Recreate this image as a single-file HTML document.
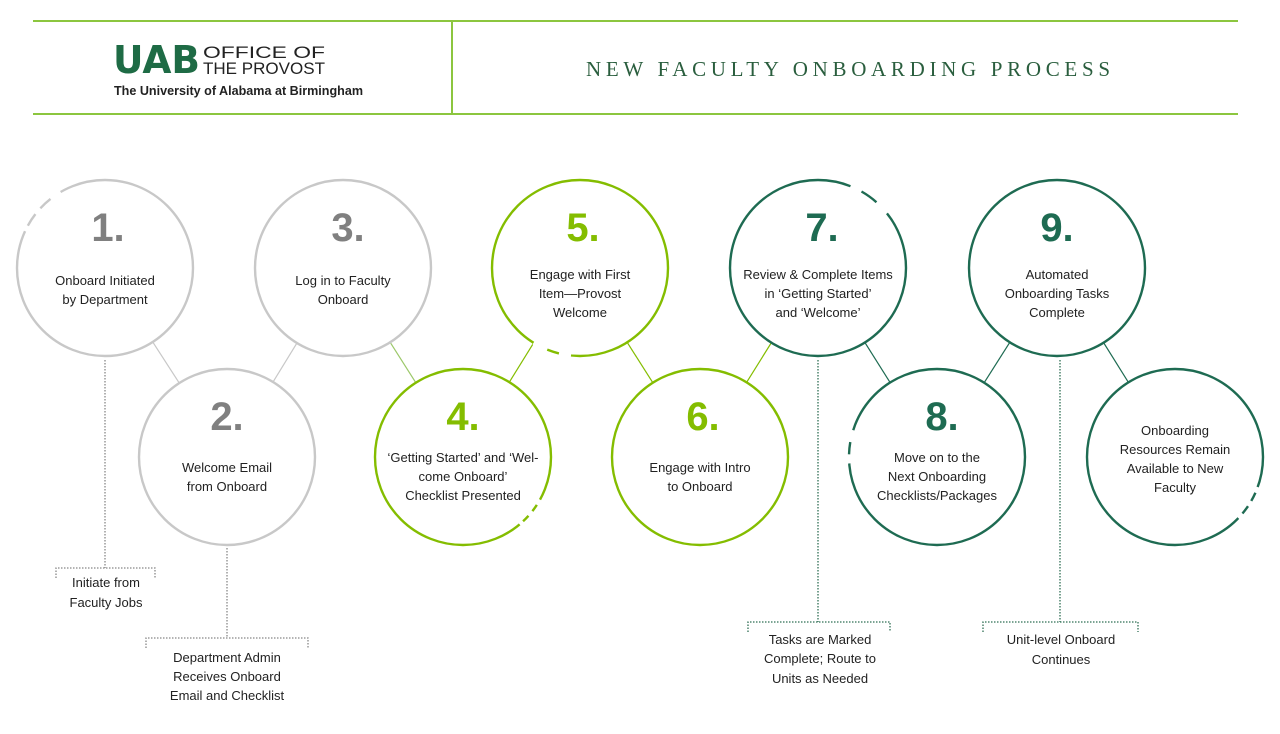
<!DOCTYPE html>
<html><head><meta charset="utf-8"><style>
html,body{margin:0;padding:0;background:#fff;}
svg{display:block;}
text{font-family:"Liberation Sans",sans-serif;}
</style></head><body>
<svg width="1280" height="734" viewBox="0 0 1280 734" xmlns="http://www.w3.org/2000/svg">
<line x1="33" y1="21" x2="1238" y2="21" stroke="#8cc63f" stroke-width="2"/>
<line x1="33" y1="114" x2="1238" y2="114" stroke="#8cc63f" stroke-width="2"/>
<line x1="452" y1="21" x2="452" y2="114" stroke="#8cc63f" stroke-width="2"/>
<text x="113" y="73" font-size="38" font-weight="bold" fill="#1e6b45" textLength="87" lengthAdjust="spacingAndGlyphs" style="font-family:'DejaVu Sans',sans-serif">UAB</text>
<text x="203" y="58" font-size="17" fill="#222" textLength="122" lengthAdjust="spacingAndGlyphs">OFFICE OF</text>
<text x="203" y="74" font-size="17" fill="#222" textLength="122" lengthAdjust="spacingAndGlyphs">THE PROVOST</text>
<text x="114" y="95" font-size="12.5" font-weight="bold" fill="#222" textLength="249" lengthAdjust="spacingAndGlyphs">The University of Alabama at Birmingham</text>
<text x="586" y="76" font-size="21" fill="#2a5e3e" textLength="524" lengthAdjust="spacing" style="font-family:'Liberation Serif',serif">NEW FACULTY ONBOARDING PROCESS</text>

<g stroke-width="1.2">
<line x1="105" y1="268" x2="227" y2="457" stroke="#c8c8c8"/>
<line x1="227" y1="457" x2="343" y2="268" stroke="#c8c8c8"/>
<line x1="343" y1="268" x2="463" y2="457" stroke="#9cc86a"/>
<line x1="463" y1="457" x2="580" y2="268" stroke="#84bd00"/>
<line x1="580" y1="268" x2="700" y2="457" stroke="#84bd00"/>
<line x1="700" y1="457" x2="818" y2="268" stroke="#84bd00"/>
<line x1="818" y1="268" x2="937" y2="457" stroke="#1e6b52"/>
<line x1="937" y1="457" x2="1057" y2="268" stroke="#1e6b52"/>
<line x1="1057" y1="268" x2="1175" y2="457" stroke="#1e6b52"/>
</g>

<g fill="none" stroke-width="1.3" stroke-dasharray="1.5 1.5">
<path d="M105 360 V568 M56 578 V568 H155 V578" stroke="#888"/>
<path d="M227 548 V638 M146 648 V638 H308 V648" stroke="#888"/>
<path d="M818 360 V622 M748 632 V622 H890 V632" stroke="#2f6f55"/>
<path d="M1060 360 V622 M983 632 V622 H1138 V632" stroke="#2f6f55"/>
</g>

<g fill="#fff" stroke-width="2.4">
<circle cx="105" cy="268" r="88" stroke="#c8c8c8"/>
<circle cx="227" cy="457" r="88" stroke="#c8c8c8"/>
<circle cx="343" cy="268" r="88" stroke="#c8c8c8"/>
<circle cx="463" cy="457" r="88" stroke="#84bd00"/>
<circle cx="580" cy="268" r="88" stroke="#84bd00"/>
<circle cx="700" cy="457" r="88" stroke="#84bd00"/>
<circle cx="818" cy="268" r="88" stroke="#1e6b52"/>
<circle cx="937" cy="457" r="88" stroke="#1e6b52"/>
<circle cx="1057" cy="268" r="88" stroke="#1e6b52"/>
<circle cx="1175" cy="457" r="88" stroke="#1e6b52"/>
</g>
<g fill="none" stroke-width="4" stroke="#fff">
<circle cx="105" cy="268" r="88" pathLength="360" stroke-dasharray="35 325" stroke-dashoffset="-205"/>
<circle cx="580" cy="268" r="88" pathLength="360" stroke-dasharray="26 334" stroke-dashoffset="-96"/>
<circle cx="463" cy="457" r="88" pathLength="360" stroke-dasharray="21 339" stroke-dashoffset="-29"/>
<circle cx="818" cy="268" r="88" pathLength="360" stroke-dasharray="30 330" stroke-dashoffset="-292"/>
<circle cx="937" cy="457" r="88" pathLength="360" stroke-dasharray="22 338" stroke-dashoffset="-176"/>
<circle cx="1175" cy="457" r="88" pathLength="360" stroke-dasharray="24 336" stroke-dashoffset="-20"/>
</g>
<g fill="none" stroke-width="2.4">
<circle cx="105" cy="268" r="88" pathLength="360" stroke="#c8c8c8" stroke-dasharray="0 209 9 5 9 338"/>
<circle cx="580" cy="268" r="88" pathLength="360" stroke="#84bd00" stroke-dasharray="0 104 8 248"/>
<circle cx="463" cy="457" r="88" pathLength="360" stroke="#84bd00" stroke-dasharray="0 33 5 4 5 313"/>
<circle cx="818" cy="268" r="88" pathLength="360" stroke="#1e6b52" stroke-dasharray="0 300 12 48"/>
<circle cx="937" cy="457" r="88" pathLength="360" stroke="#1e6b52" stroke-dasharray="0 182 8 170"/>
<circle cx="1175" cy="457" r="88" pathLength="360" stroke="#1e6b52" stroke-dasharray="0 24 6 4 6 320"/>
</g>

<g font-size="40" font-weight="bold" text-anchor="middle" style="font-family:'DejaVu Sans',sans-serif">
<text x="108" y="241" fill="#808080">1.</text>
<text x="227" y="430" fill="#808080">2.</text>
<text x="348" y="241" fill="#808080">3.</text>
<text x="463" y="430" fill="#84bd00">4.</text>
<text x="583" y="241" fill="#84bd00">5.</text>
<text x="703" y="430" fill="#84bd00">6.</text>
<text x="822" y="241" fill="#1e6b52">7.</text>
<text x="942" y="430" fill="#1e6b52">8.</text>
<text x="1057" y="241" fill="#1e6b52">9.</text>
</g>

<g font-size="13" fill="#222" text-anchor="middle">
<text x="105" y="285">Onboard Initiated</text><text x="105" y="304">by Department</text>
<text x="227" y="472">Welcome Email</text><text x="227" y="491">from Onboard</text>
<text x="343" y="285">Log in to Faculty</text><text x="343" y="304">Onboard</text>
<text x="463" y="462">‘Getting Started’ and ‘Wel-</text><text x="463" y="481">come Onboard’</text><text x="463" y="500">Checklist Presented</text>
<text x="580" y="279">Engage with First</text><text x="580" y="298">Item—Provost</text><text x="580" y="317">Welcome</text>
<text x="700" y="472">Engage with Intro</text><text x="700" y="491">to Onboard</text>
<text x="818" y="279">Review &amp; Complete Items</text><text x="818" y="298">in ‘Getting Started’</text><text x="818" y="317">and ‘Welcome’</text>
<text x="937" y="462">Move on to the</text><text x="937" y="481">Next Onboarding</text><text x="937" y="500">Checklists/Packages</text>
<text x="1057" y="279">Automated</text><text x="1057" y="298">Onboarding Tasks</text><text x="1057" y="317">Complete</text>
<text x="1175" y="435">Onboarding</text><text x="1175" y="454">Resources Remain</text><text x="1175" y="473">Available to New</text><text x="1175" y="492">Faculty</text>

<text x="106" y="587">Initiate from</text><text x="106" y="607">Faculty Jobs</text>
<text x="227" y="662">Department Admin</text><text x="227" y="681">Receives Onboard</text><text x="227" y="700">Email and Checklist</text>
<text x="820" y="644">Tasks are Marked</text><text x="820" y="663">Complete; Route to</text><text x="820" y="683">Units as Needed</text>
<text x="1061" y="644">Unit-level Onboard</text><text x="1061" y="664">Continues</text>
</g>
</svg>
</body></html>
